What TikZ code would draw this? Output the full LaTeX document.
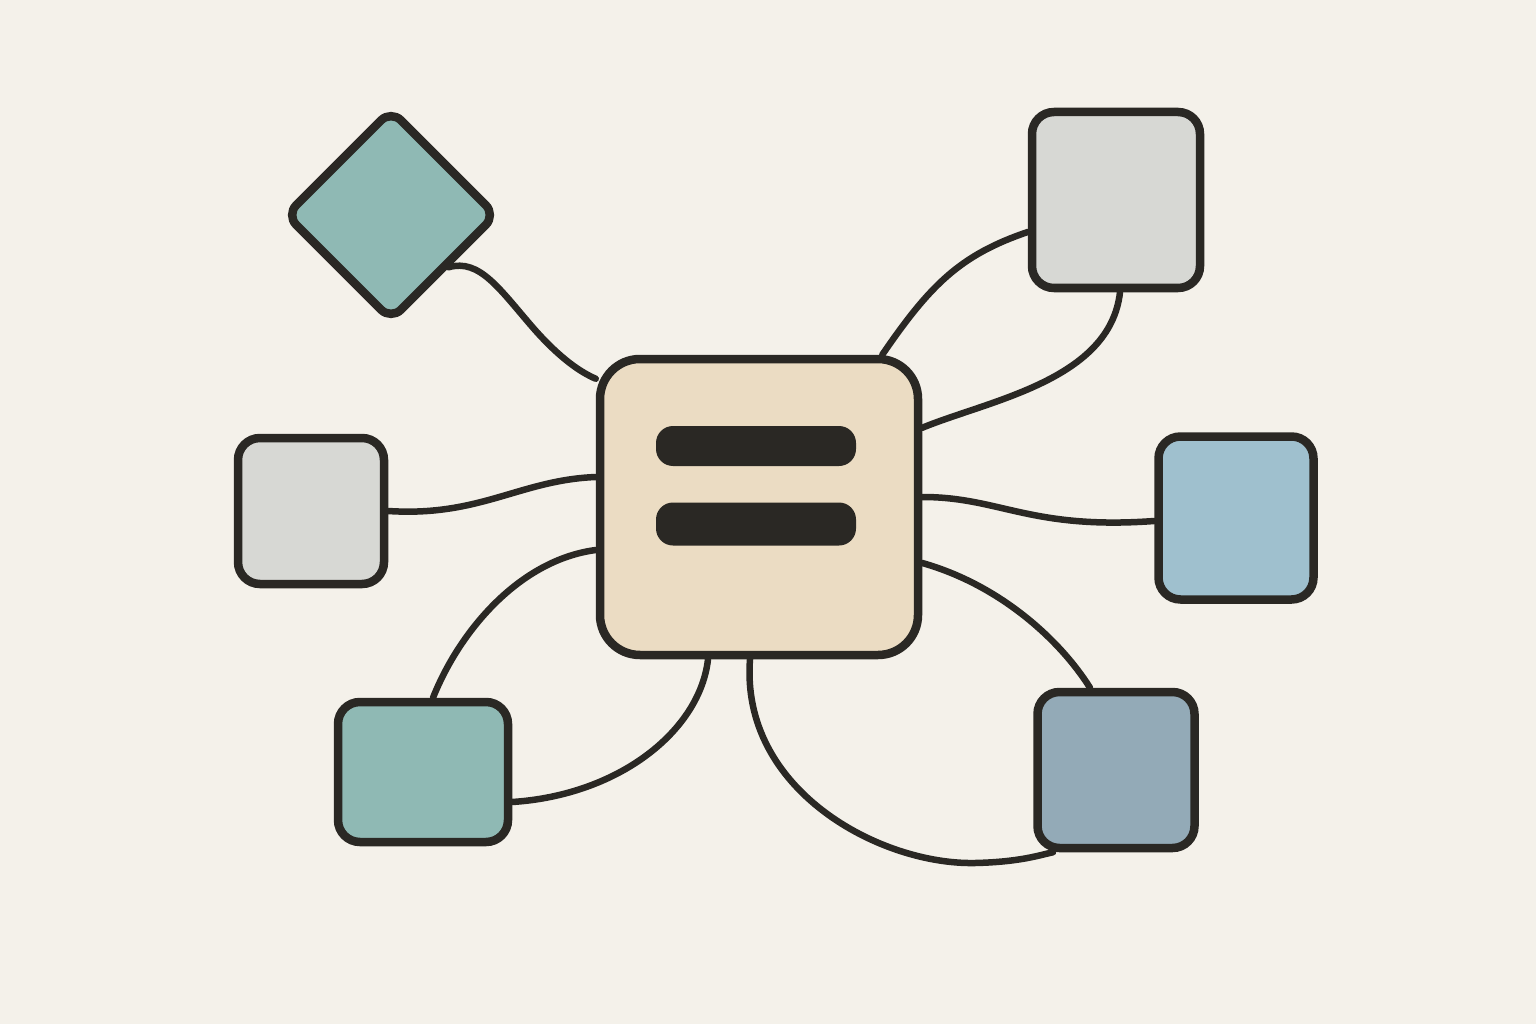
\documentclass[tikz,border=0pt]{standalone}
\begin{document}
\begin{tikzpicture}[x=1pt,y=-1pt,
  outline/.style={draw=ink,line width=8.5pt,rounded corners=22pt,inner sep=0pt},
  link/.style={draw=ink,line width=6.5pt,line cap=round},
  bar/.style={fill=ink,rounded corners=17pt,inner sep=0pt,minimum width=200pt}]
\definecolor{paper}{HTML}{F4F1EA}
\definecolor{ink}{HTML}{2A2824}
\definecolor{beige}{HTML}{EBDCC3}
\definecolor{teal}{HTML}{8FB9B4}
\definecolor{lgray}{HTML}{D7D8D4}
\definecolor{sky}{HTML}{9FC0CE}
\definecolor{slate}{HTML}{93AAB7}
\fill[paper] (0,0) rectangle (1536,1024);
\useasboundingbox (0,0) rectangle (1536,1024);
% nodes
\node[outline,fill=beige,minimum width=318pt,minimum height=296pt,rounded corners=40pt] (C) at (759,507) {};
\node[bar,minimum height=40pt] (b1) at (756,446) {};
\node[bar,minimum height=43pt] (b2) at (756,524) {};
\node[outline,fill=teal,rotate=45,minimum width=148pt,minimum height=148pt,rounded corners=14pt] (D) at (391,215) {};
\node[outline,fill=lgray,minimum width=168pt,minimum height=176pt] (TR) at (1116,200) {};
\node[outline,fill=lgray,minimum width=146pt,minimum height=146pt] (L) at (311,511) {};
\node[outline,fill=sky,minimum width=155pt,minimum height=163pt] (R) at (1236,518) {};
\node[outline,fill=teal,minimum width=170pt,minimum height=140pt] (BL) at (423,772) {};
\node[outline,fill=slate,minimum width=157pt,minimum height=156pt] (BR) at (1116,770) {};
% connectors
\draw[link] ([xshift=2pt,yshift=3pt]D.south) .. controls (480,258) and (500,290) .. (535,330) .. controls (560,358) and (580,372) .. ([yshift=-24pt]C.north west);
\draw[link] ([yshift=-32pt]TR.west) .. controls (960,255) and (930,285) .. ([xshift=-40pt]C.north east);
\draw[link] ([xshift=4pt]TR.south) .. controls (1110,380) and (990,400) .. ([yshift=-73pt]C.north east);
\draw[link] (L.east) .. controls (480,517) and (520,480) .. ([yshift=30pt]C.west);
\draw[link] ([yshift=-3pt]R.west) .. controls (1030,530) and (1000,497) .. ([yshift=10pt]C.east);
\draw[link] ([xshift=10pt]BL.north) .. controls (460,630) and (520,560) .. ([yshift=-43pt]C.west);
\draw[link] ([yshift=-30pt]BL.east) .. controls (620,795) and (700,730) .. ([xshift=-51pt]C.south);
\draw[link] ([xshift=-9pt]C.south) .. controls (740,790) and (880,865) .. (975,863) .. controls (1020,862) and (1040,855) .. ([xshift=-63pt]BR.south);
\draw[link] ([yshift=-56pt]C.east) .. controls (1000,585) and (1060,640) .. ([xshift=-26pt]BR.north);
\end{tikzpicture}
\end{document}
